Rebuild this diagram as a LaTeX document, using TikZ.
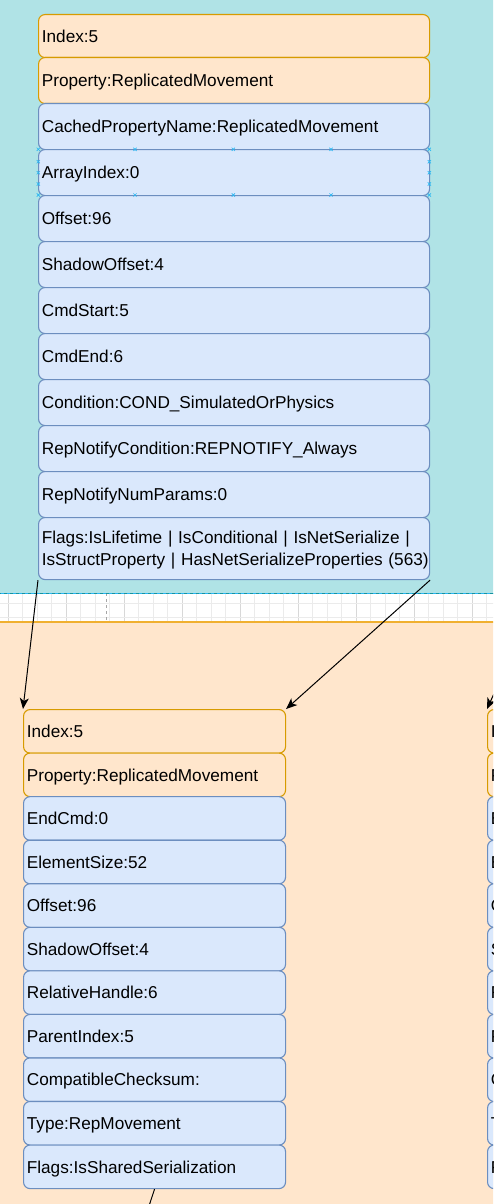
\documentclass[tikz,border=0pt]{standalone}
\usepackage{fontspec}
\setmainfont{Liberation Sans}
\usetikzlibrary{arrows.meta}
\definecolor{tealbg}{HTML}{B0E3E6}
\definecolor{tealln}{HTML}{1593A0}
\definecolor{peach}{HTML}{FFE6CC}
\definecolor{orln}{HTML}{D79B00}
\definecolor{orline}{HTML}{F0B030}
\definecolor{bluef}{HTML}{DAE8FC}
\definecolor{bluel}{HTML}{6C8EBF}
\definecolor{selb}{HTML}{29B6F2}
\definecolor{gridmin}{HTML}{EBEBEB}
\definecolor{gridmaj}{HTML}{D8D8D8}
\begin{document}
\begin{tikzpicture}[x=1pt,y=-1pt,
  box/.style={draw, rounded corners=6.5pt, line width=1.1pt, anchor=north west,
    inner xsep=3.3pt, inner ysep=0pt, align=left, text height=12.4pt, text depth=0pt,
    font=\fontsize{17.2}{22}\selectfont},
  tb/.style={box, text width=384.4pt},
  lb/.style={box, text width=255.4pt},
  ob/.style={fill=peach, draw=orln},
  bb/.style={fill=bluef, draw=bluel},
  arr/.style={-{Stealth[length=11pt,width=9pt,inset=3pt]}, line width=1pt, black},
  selx/.style={selb, line width=0.7pt},
  gmin/.style={gridmin, line width=0.8pt},
  gmaj/.style={gridmaj, line width=0.8pt}]
\useasboundingbox (0,0) rectangle (493,1204);
\clip (0,0) rectangle (493,1204);
% backgrounds
\fill[peach] (-5,622) rectangle (500,1210);
\fill[tealbg] (-5,-5) rectangle (500,593);
\fill[white] (-5,593) rectangle (500,622);
\foreach \i in {0,...,33} {\draw[gmin] (8.3+14.5*\i,593) -- ++(0,29);}
\foreach \i in {0,...,8} {\draw[gmaj] (8.3+58*\i,593) -- ++(0,29);}
\draw[gmin] (-5,603.3) -- (500,603.3);
\draw[gmin] (-5,617.8) -- (500,617.8);
\draw[gray!70, dashed, line width=0.8pt] (106.7,593) -- (106.7,622);
\draw[tealln, line width=1pt] (-5,593) -- (500,593);
\draw[selb, dash pattern=on 3pt off 3pt, line width=1pt] (-5,593) -- (500,593);
\draw[orline, line width=1.3pt] (-5,622) -- (500,622);
% top column
\node[tb, ob, minimum height=43pt] (t1) at (38,14) {Index:5};
\node[tb, ob, minimum height=46pt] (t2) at (38,57) {Property:ReplicatedMovement};
\node[tb, bb, minimum height=46pt] (t3) at (38,103) {CachedPropertyName:ReplicatedMovement};
\node[tb, bb, minimum height=46pt] (t4) at (38,149) {ArrayIndex:0};
\node[tb, bb, minimum height=46pt] (t5) at (38,195) {Offset:96};
\node[tb, bb, minimum height=46pt] (t6) at (38,241) {ShadowOffset:4};
\node[tb, bb, minimum height=46pt] (t7) at (38,287) {CmdStart:5};
\node[tb, bb, minimum height=46pt] (t8) at (38,333) {CmdEnd:6};
\node[tb, bb, minimum height=46pt] (t9) at (38,379) {Condition:COND\_SimulatedOrPhysics};
\node[tb, bb, minimum height=46pt] (t10) at (38,425) {RepNotifyCondition:REPNOTIFY\_Always};
\node[tb, bb, minimum height=46pt] (t11) at (38,471) {RepNotifyNumParams:0};
\node[tb, bb, minimum height=62pt, text depth=22pt] (t12) at (38,517) {\mbox{Flags:IsLifetime | IsConditional | IsNetSerialize |}\\\mbox{IsStructProperty | HasNetSerializeProperties (563)}};
% selection marks on ArrayIndex
\foreach \x in {38.3,135,233.3,331,429.3} {
  \foreach \y in {149.3,195} {\draw[selx] (\x-1.6,\y-1.6) -- (\x+1.6,\y+1.6) (\x-1.6,\y+1.6) -- (\x+1.6,\y-1.6);}}
\foreach \x in {38.3,429.3} {
  \foreach \y in {161.7,172.7,184} {\draw[selx] (\x-1.6,\y-1.6) -- (\x+1.6,\y+1.6) (\x-1.6,\y+1.6) -- (\x+1.6,\y-1.6);}}
% bottom left column
\def\bh{43.55}
\node[lb, ob, minimum height=\bh pt] (b1) at (23,709) {Index:5};
\node[lb, ob, minimum height=\bh pt] (b2) at (23,709+\bh) {Property:ReplicatedMovement};
\node[lb, bb, minimum height=\bh pt] (b3) at (23,709+2*\bh) {EndCmd:0};
\node[lb, bb, minimum height=\bh pt] (b4) at (23,709+3*\bh) {ElementSize:52};
\node[lb, bb, minimum height=\bh pt] (b5) at (23,709+4*\bh) {Offset:96};
\node[lb, bb, minimum height=\bh pt] (b6) at (23,709+5*\bh) {ShadowOffset:4};
\node[lb, bb, minimum height=\bh pt] (b7) at (23,709+6*\bh) {RelativeHandle:6};
\node[lb, bb, minimum height=\bh pt] (b8) at (23,709+7*\bh) {ParentIndex:5};
\node[lb, bb, minimum height=\bh pt] (b9) at (23,709+8*\bh) {CompatibleChecksum:};
\node[lb, bb, minimum height=\bh pt] (b10) at (23,709+9*\bh) {Type:RepMovement};
\node[lb, bb, minimum height=\bh pt] (b11) at (23,709+10*\bh) {Flags:IsSharedSerialization};
% right column (cut off at the picture's edge, as in the reference)
\node[lb, ob, minimum height=\bh pt] (r1) at (487,709) {I};
\node[lb, ob, minimum height=\bh pt] (r2) at (487,709+\bh) {P};
\node[lb, bb, minimum height=\bh pt] (r3) at (487,709+2*\bh) {E};
\node[lb, bb, minimum height=\bh pt] (r4) at (487,709+3*\bh) {E};
\node[lb, bb, minimum height=\bh pt] (r5) at (487,709+4*\bh) {O};
\node[lb, bb, minimum height=\bh pt] (r6) at (487,709+5*\bh) {S};
\node[lb, bb, minimum height=\bh pt] (r7) at (487,709+6*\bh) {R};
\node[lb, bb, minimum height=\bh pt] (r8) at (487,709+7*\bh) {P};
\node[lb, bb, minimum height=\bh pt] (r9) at (487,709+8*\bh) {C};
\node[lb, bb, minimum height=\bh pt] (r10) at (487,709+9*\bh) {T};
\node[lb, bb, minimum height=\bh pt] (r11) at (487,709+10*\bh) {F};
% connectors
\coordinate (rsrc) at (507,665);
\coordinate (bdst) at (146,1215);
\draw[arr] (t12.south west) -- (b1.north west);
\draw[arr] (t12.south east) -- (b1.north east);
\draw[arr] (rsrc) -- (r1.north west);
\draw[line width=1pt] (b11.south) -- (bdst);
\end{tikzpicture}
\end{document}
